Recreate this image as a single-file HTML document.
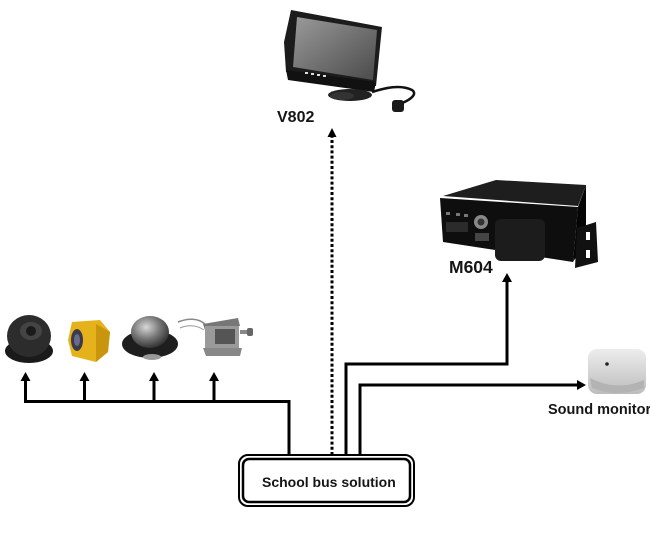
<!DOCTYPE html>
<html><head><meta charset="utf-8"><style>
html,body{margin:0;padding:0;background:#fff;}
svg{display:block;}
text{font-family:"Liberation Sans",Arial,sans-serif;font-weight:bold;fill:#151515;}
</style></head><body>
<svg width="650" height="539" viewBox="0 0 650 539" xmlns="http://www.w3.org/2000/svg">
<defs>
<linearGradient id="scr" x1="0" y1="0" x2="1" y2="1"><stop offset="0" stop-color="#9a9a9a"/><stop offset="1" stop-color="#4a4a4a"/></linearGradient>
<radialGradient id="dome" cx="0.4" cy="0.35" r="0.7"><stop offset="0" stop-color="#d8d8d8"/><stop offset="0.5" stop-color="#7a7a7a"/><stop offset="1" stop-color="#2a2a2a"/></radialGradient>
<linearGradient id="snd" x1="0" y1="0" x2="0" y2="1"><stop offset="0" stop-color="#ededed"/><stop offset="1" stop-color="#bdbdbd"/></linearGradient>
</defs>
<rect width="650" height="539" fill="#fff"/>

<!-- Monitor V802 -->
<polygon points="291,10 382,27 376,86 286,72 284,42" fill="#1c1c1c"/>
<polygon points="297,17 377,30 373,80 293,67" fill="url(#scr)"/>
<polygon points="286,70 376,82 374,92 288,80" fill="#111"/>
<rect x="305" y="72" width="3" height="2" fill="#ddd"/><rect x="311" y="73" width="3" height="2" fill="#ddd"/><rect x="317" y="74" width="3" height="2" fill="#ddd"/><rect x="323" y="75" width="3" height="2" fill="#ddd"/>
<ellipse cx="350" cy="95" rx="22" ry="6" fill="#222"/>
<ellipse cx="342" cy="96" rx="12" ry="4" fill="#333"/>
<path d="M372,92 C385,88 400,84 412,90 C418,94 410,100 402,103" fill="none" stroke="#111" stroke-width="2.5"/>
<rect x="392" y="100" width="12" height="12" rx="3" fill="#1a1a1a"/>
<text x="277" y="122" font-size="16">V802</text>

<!-- DVR M604 -->
<polygon points="443,196 496,180 586,185 578,206" fill="#1e1e1e"/>
<polygon points="440,198 578,207 573,262 443,242" fill="#0e0e0e"/>
<polygon points="578,207 586,185 586,242 573,262" fill="#050505"/>
<polygon points="577,228 596,222 598,262 575,268" fill="#111"/>
<rect x="586" y="232" width="4" height="8" fill="#fff"/>
<rect x="586" y="250" width="4" height="8" fill="#fff"/>
<rect x="495" y="219" width="50" height="42" rx="6" fill="#1c1c1c"/>
<circle cx="481" cy="222" r="7" fill="#888"/><circle cx="481" cy="222" r="3.5" fill="#333"/>
<rect x="475" y="233" width="14" height="8" fill="#444"/>
<rect x="446" y="212" width="4" height="3" fill="#777"/><rect x="456" y="213" width="4" height="3" fill="#777"/><rect x="464" y="214" width="4" height="3" fill="#777"/>
<rect x="446" y="222" width="22" height="10" fill="#2b2b2b"/>
<text x="449" y="273" font-size="17.5">M604</text>

<!-- Cameras -->
<ellipse cx="29" cy="351" rx="24" ry="12" fill="#1a1a1a"/>
<ellipse cx="29" cy="336" rx="22" ry="21" fill="#2c2c2c"/>
<ellipse cx="31" cy="331" rx="11" ry="9" fill="#444"/>
<circle cx="31" cy="331" r="5" fill="#1a1a1a"/>

<polygon points="72,322 100,320 110,332 108,352 96,362 72,356 68,340" fill="#e5b21b"/>
<polygon points="96,324 110,332 108,352 96,362" fill="#c9950f"/>
<ellipse cx="77" cy="340" rx="6" ry="11" fill="#3a3a4a"/>
<ellipse cx="77" cy="340" rx="3" ry="6" fill="#6a6a8a"/>

<ellipse cx="150" cy="344" rx="28" ry="14" fill="#1e1e1e"/>
<ellipse cx="150" cy="332" rx="19" ry="16" fill="url(#dome)"/>
<ellipse cx="152" cy="357" rx="9" ry="3" fill="#999"/>

<path d="M178,322 C188,318 198,318 205,324" fill="none" stroke="#888" stroke-width="1.5"/>
<path d="M180,328 C190,324 198,326 204,330" fill="none" stroke="#999" stroke-width="1"/>
<polygon points="203,324 238,318 240,326 205,330" fill="#777"/>
<rect x="205" y="326" width="34" height="22" fill="#9a9a9a"/>
<rect x="215" y="329" width="20" height="15" fill="#555"/>
<polygon points="203,348 242,348 240,356 206,356" fill="#888"/>
<rect x="240" y="330" width="8" height="4" fill="#888"/>
<rect x="247" y="328" width="6" height="8" rx="2" fill="#666"/>

<!-- Sound monitor -->
<rect x="588" y="349" width="58" height="45" rx="9" fill="url(#snd)"/>
<path d="M590,378 Q617,392 644,380 L644,388 Q617,398 592,388 Z" fill="#b3b3b3"/>
<circle cx="607" cy="364" r="1.8" fill="#222"/>
<text x="548" y="414" font-size="14.5">Sound monitor</text>

<!-- Connectors -->
<g fill="none" stroke="#000" stroke-width="3">
<path d="M25.5,380 V401.5 H289 V456"/>
<path d="M84.5,380 V401"/>
<path d="M154,380 V401"/>
<path d="M214,380 V401"/>
<path d="M346,456 V364 H507 V281"/>
<path d="M360,456 V385 H577"/>
</g>
<line x1="332" y1="455" x2="332" y2="136" stroke="#000" stroke-width="3" stroke-dasharray="3 2.2"/>
<g fill="#000">
<polygon points="25.5,372 20.5,381 30.5,381"/>
<polygon points="84.5,372 79.5,381 89.5,381"/>
<polygon points="154,372 149,381 159,381"/>
<polygon points="214,372 209,381 219,381"/>
<polygon points="507,273 502,282 512,282"/>
<polygon points="586,385 577,380 577,390"/>
<polygon points="332,128 327.5,137 336.5,137"/>
</g>

<!-- Central box -->
<rect x="239" y="455" width="175" height="51" rx="9" fill="#fff" stroke="#000" stroke-width="2"/>
<rect x="243" y="459" width="167" height="43" rx="6" fill="none" stroke="#000" stroke-width="2.5"/>
<text x="262" y="487" font-size="14">School bus solution</text>
</svg>
</body></html>
